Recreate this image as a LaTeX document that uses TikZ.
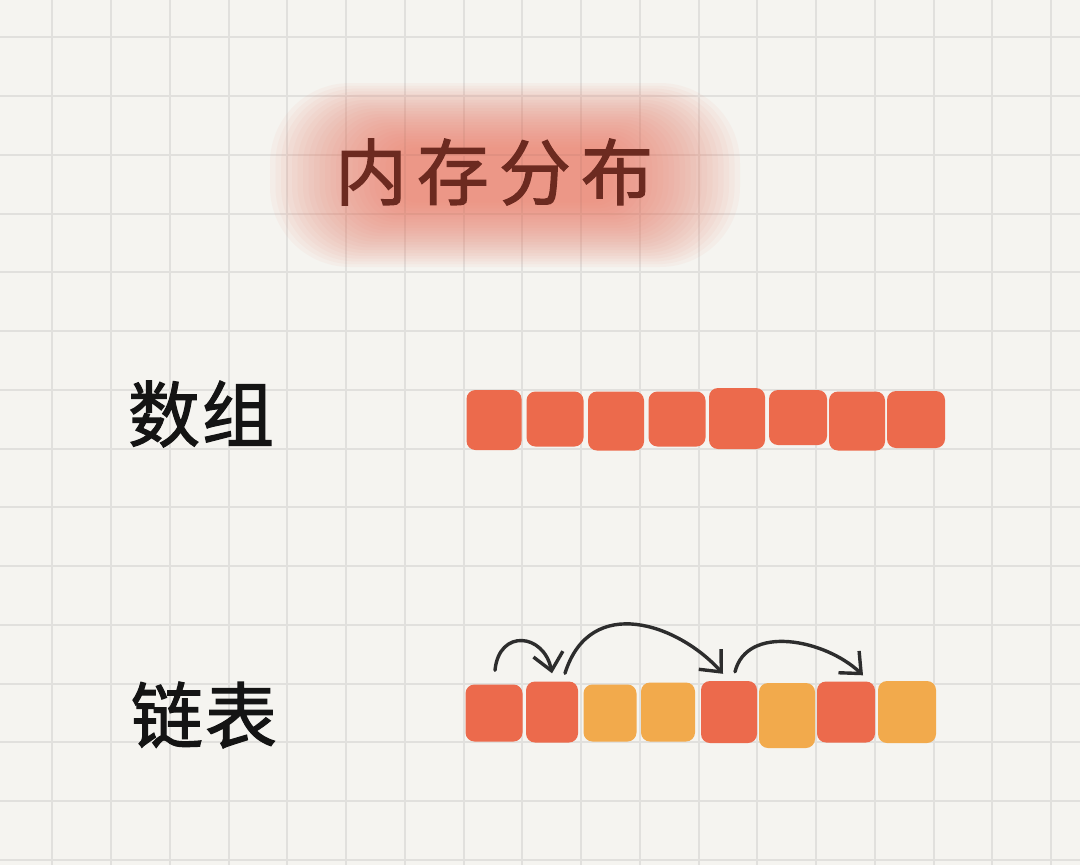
\documentclass[tikz,border=0pt]{standalone}
\usepackage{fontspec}
\newfontfamily\cjk[FakeBold=1.6]{Noto Sans CJK SC}
\usetikzlibrary{arrows.meta}
\definecolor{paper}{RGB}{245,244,240}
\definecolor{gridc}{RGB}{225,224,221}
\definecolor{redc}{RGB}{236,106,76}
\definecolor{orc}{RGB}{242,170,76}
\definecolor{glowc}{RGB}{236,122,102}
\definecolor{titlec}{RGB}{108,42,32}
\definecolor{arrowc}{RGB}{45,45,45}
\definecolor{inkc}{RGB}{20,20,20}
\begin{document}
\begin{tikzpicture}[x=1pt,y=-1pt,
  cell/.style={rounded corners=9pt, inner sep=0pt, draw=none},
  redcell/.style={cell, fill=redc},
  orcell/.style={cell, fill=orc},
  gridline/.style={draw=gridc, line width=2pt},
  glowlayer/.style={fill=glowc, opacity=0.05},
  label/.style={text=inkc, font=\cjk\fontsize{72}{72}\selectfont, inner sep=0pt},
  titletext/.style={text=titlec, font=\cjk\fontsize{72}{72}\selectfont, inner sep=0pt},
  link/.style={draw=arrowc, line width=3.4pt, line cap=round, line join=round,
    -{Straight Barb[length=17pt,width=30pt,line width=3.4pt]}}]
% paper
\fill[paper] (0,0) rectangle (1080,865);
\useasboundingbox (0,0) rectangle (1080,865);
% grid
\foreach \k in {0,...,17} { \draw[gridline] ({52.3+58.75*\k},0) -- ({52.3+58.75*\k},865); }
\foreach \k in {0,...,14} { \draw[gridline] (0,{37.3+58.75*\k}) -- (1080,{37.3+58.75*\k}); }
% glow behind title
\foreach \i in {0,...,23} {
  \fill[glowlayer, rounded corners={(80-2.6*\i)*1pt}]
    ({505-235+\i*5.5},{175-92+\i*2.8}) rectangle ({505+235-\i*5.5},{175+92-\i*2.8});
}
% title
\node[titletext] (title) at (494,172) {内\hspace{10pt}存\hspace{10pt}分\hspace{10pt}布};
% labels
\node[label] (arrlabel) at (201,414) {数\hspace{2pt}组};
\node[label] (lstlabel) at (204,715) {链\hspace{2pt}表};
% array cells
\node[redcell, minimum width=55pt, minimum height=60pt] (a1) at (494,420) {};
\node[redcell, minimum width=57pt, minimum height=55pt] (a2) at (555,419) {};
\node[redcell, minimum width=56pt, minimum height=59pt] (a3) at (616,421) {};
\node[redcell, minimum width=57pt, minimum height=55pt] (a4) at (677,419) {};
\node[redcell, minimum width=56pt, minimum height=61pt] (a5) at (737,418.5) {};
\node[redcell, minimum width=58pt, minimum height=55pt] (a6) at (798,417.5) {};
\node[redcell, minimum width=56pt, minimum height=59pt] (a7) at (857,421) {};
\node[redcell, minimum width=58pt, minimum height=57pt] (a8) at (916,419.5) {};
% linked list cells
\node[redcell, minimum width=57pt, minimum height=57pt] (l1) at (494,713) {};
\node[redcell, minimum width=52pt, minimum height=61pt] (l2) at (552,712) {};
\node[orcell,  minimum width=53pt, minimum height=57pt] (l3) at (610,713) {};
\node[orcell,  minimum width=54pt, minimum height=59pt] (l4) at (668,712) {};
\node[redcell, minimum width=56pt, minimum height=62pt] (l5) at (729,712) {};
\node[orcell,  minimum width=56pt, minimum height=65pt] (l6) at (787,715.5) {};
\node[redcell, minimum width=58pt, minimum height=61pt] (l7) at (846,712) {};
\node[orcell,  minimum width=58pt, minimum height=62pt] (l8) at (907,712) {};
% link arrows
\draw[link] ([xshift=1pt,yshift=14pt]l1.north) .. controls +(4,-42) and +(-8,-40) .. ([xshift=0pt,yshift=8pt]l2.north);
\draw[link] ([xshift=13pt,yshift=8pt]l2.north) .. controls +(25,-80) and +(-45,-50) .. ([xshift=-6pt,yshift=7pt]l5.north);
\draw[link] ([xshift=6pt,yshift=9pt]l5.north) .. controls +(12,-48) and +(-38,-36) .. ([xshift=17pt,yshift=6pt]l7.north);
\end{tikzpicture}
\end{document}
